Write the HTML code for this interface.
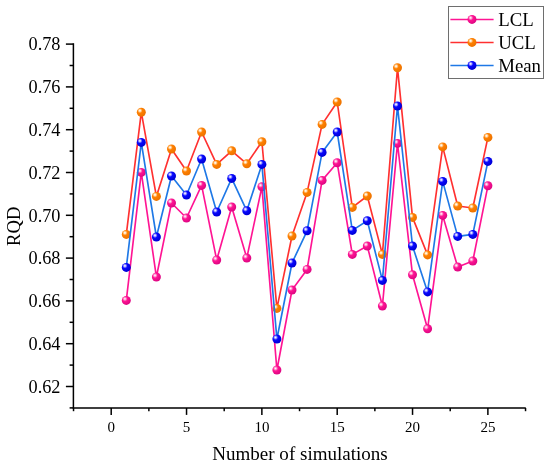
<!DOCTYPE html><html><head><meta charset="utf-8"><title>RQD</title>
<style>html,body{margin:0;padding:0;background:#fff}svg{display:block}text{font-family:"Liberation Serif","Times New Roman",serif;fill:#000}</style></head><body>
<svg width="550" height="469" viewBox="0 0 550 469">
<defs>
<radialGradient id="gp" cx="0.36" cy="0.34" r="0.62" fx="0.34" fy="0.32"><stop offset="0" stop-color="#fff"/><stop offset="0.12" stop-color="#ffd0e8"/><stop offset="0.45" stop-color="#ff1493"/><stop offset="1" stop-color="#e00884"/></radialGradient>
<radialGradient id="go" cx="0.36" cy="0.34" r="0.62" fx="0.34" fy="0.32"><stop offset="0" stop-color="#fff"/><stop offset="0.12" stop-color="#fff0d8"/><stop offset="0.45" stop-color="#ff8000"/><stop offset="1" stop-color="#ee7400"/></radialGradient>
<radialGradient id="gb" cx="0.36" cy="0.34" r="0.62" fx="0.34" fy="0.32"><stop offset="0" stop-color="#fff"/><stop offset="0.12" stop-color="#d8d8ff"/><stop offset="0.45" stop-color="#0808ff"/><stop offset="1" stop-color="#0000d8"/></radialGradient>
</defs>
<rect width="550" height="469" fill="#fff"/>
<g stroke="#000" stroke-width="1.5" fill="none">
<path d="M73.4 43.35V408.0H525.8"/>
<path d="M69.60000000000001 407.90H73.4"/>
<path d="M65.9 386.50H73.4"/>
<path d="M69.60000000000001 365.10H73.4"/>
<path d="M65.9 343.70H73.4"/>
<path d="M69.60000000000001 322.30H73.4"/>
<path d="M65.9 300.90H73.4"/>
<path d="M69.60000000000001 279.50H73.4"/>
<path d="M65.9 258.10H73.4"/>
<path d="M69.60000000000001 236.70H73.4"/>
<path d="M65.9 215.30H73.4"/>
<path d="M69.60000000000001 193.90H73.4"/>
<path d="M65.9 172.50H73.4"/>
<path d="M69.60000000000001 151.10H73.4"/>
<path d="M65.9 129.70H73.4"/>
<path d="M69.60000000000001 108.30H73.4"/>
<path d="M65.9 86.90H73.4"/>
<path d="M69.60000000000001 65.50H73.4"/>
<path d="M65.9 44.10H73.4"/>
<path d="M73.53 408.0V411.2"/>
<path d="M111.20 408.0V414.9"/>
<path d="M148.87 408.0V411.2"/>
<path d="M186.54 408.0V414.9"/>
<path d="M224.20 408.0V411.2"/>
<path d="M261.87 408.0V414.9"/>
<path d="M299.54 408.0V411.2"/>
<path d="M337.20 408.0V414.9"/>
<path d="M374.87 408.0V411.2"/>
<path d="M412.54 408.0V414.9"/>
<path d="M450.21 408.0V411.2"/>
<path d="M487.88 408.0V414.9"/>
<path d="M525.54 408.0V411.2"/>
</g>
<text x="60.5" y="392.7" font-size="18.3" text-anchor="end">0.62</text>
<text x="60.5" y="349.9" font-size="18.3" text-anchor="end">0.64</text>
<text x="60.5" y="307.1" font-size="18.3" text-anchor="end">0.66</text>
<text x="60.5" y="264.3" font-size="18.3" text-anchor="end">0.68</text>
<text x="60.5" y="221.5" font-size="18.3" text-anchor="end">0.70</text>
<text x="60.5" y="178.7" font-size="18.3" text-anchor="end">0.72</text>
<text x="60.5" y="135.9" font-size="18.3" text-anchor="end">0.74</text>
<text x="60.5" y="93.1" font-size="18.3" text-anchor="end">0.76</text>
<text x="60.5" y="50.3" font-size="18.3" text-anchor="end">0.78</text>
<text x="111.2" y="432.2" font-size="15" text-anchor="middle">0</text>
<text x="186.5" y="432.2" font-size="15" text-anchor="middle">5</text>
<text x="261.9" y="432.2" font-size="15" text-anchor="middle">10</text>
<text x="337.2" y="432.2" font-size="15" text-anchor="middle">15</text>
<text x="412.5" y="432.2" font-size="15" text-anchor="middle">20</text>
<text x="487.9" y="432.2" font-size="15" text-anchor="middle">25</text>
<text x="300" y="460" font-size="19.05" text-anchor="middle">Number of simulations</text>
<text transform="translate(20.4 226.3) rotate(-90)" font-size="18.6" text-anchor="middle">RQD</text>
<polyline points="126.3,300.4 141.3,172.4 156.4,277.0 171.5,203.0 186.5,218.0 201.6,185.4 216.7,260.0 231.7,207.0 246.8,258.0 261.9,186.8 276.9,370.0 292.0,290.0 307.1,269.4 322.1,180.4 337.2,162.8 352.3,254.4 367.3,246.0 382.4,306.0 397.5,143.4 412.5,274.8 427.6,328.8 442.7,215.4 457.7,267.0 472.8,261.0 487.9,185.8" fill="none" stroke="#ff1493" stroke-width="1.65" stroke-linejoin="round"/>
<circle cx="126.3" cy="300.4" r="4.5" fill="url(#gp)"/>
<circle cx="141.3" cy="172.4" r="4.5" fill="url(#gp)"/>
<circle cx="156.4" cy="277.0" r="4.5" fill="url(#gp)"/>
<circle cx="171.5" cy="203.0" r="4.5" fill="url(#gp)"/>
<circle cx="186.5" cy="218.0" r="4.5" fill="url(#gp)"/>
<circle cx="201.6" cy="185.4" r="4.5" fill="url(#gp)"/>
<circle cx="216.7" cy="260.0" r="4.5" fill="url(#gp)"/>
<circle cx="231.7" cy="207.0" r="4.5" fill="url(#gp)"/>
<circle cx="246.8" cy="258.0" r="4.5" fill="url(#gp)"/>
<circle cx="261.9" cy="186.8" r="4.5" fill="url(#gp)"/>
<circle cx="276.9" cy="370.0" r="4.5" fill="url(#gp)"/>
<circle cx="292.0" cy="290.0" r="4.5" fill="url(#gp)"/>
<circle cx="307.1" cy="269.4" r="4.5" fill="url(#gp)"/>
<circle cx="322.1" cy="180.4" r="4.5" fill="url(#gp)"/>
<circle cx="337.2" cy="162.8" r="4.5" fill="url(#gp)"/>
<circle cx="352.3" cy="254.4" r="4.5" fill="url(#gp)"/>
<circle cx="367.3" cy="246.0" r="4.5" fill="url(#gp)"/>
<circle cx="382.4" cy="306.0" r="4.5" fill="url(#gp)"/>
<circle cx="397.5" cy="143.4" r="4.5" fill="url(#gp)"/>
<circle cx="412.5" cy="274.8" r="4.5" fill="url(#gp)"/>
<circle cx="427.6" cy="328.8" r="4.5" fill="url(#gp)"/>
<circle cx="442.7" cy="215.4" r="4.5" fill="url(#gp)"/>
<circle cx="457.7" cy="267.0" r="4.5" fill="url(#gp)"/>
<circle cx="472.8" cy="261.0" r="4.5" fill="url(#gp)"/>
<circle cx="487.9" cy="185.8" r="4.5" fill="url(#gp)"/>
<polyline points="126.3,234.4 141.3,112.2 156.4,196.4 171.5,149.0 186.5,171.0 201.6,132.0 216.7,164.4 231.7,150.8 246.8,163.8 261.9,141.8 276.9,308.4 292.0,236.0 307.1,192.4 322.1,124.4 337.2,102.0 352.3,207.4 367.3,196.0 382.4,254.4 397.5,67.8 412.5,217.4 427.6,254.9 442.7,146.9 457.7,206.0 472.8,208.0 487.9,137.4" fill="none" stroke="#ff3030" stroke-width="1.65" stroke-linejoin="round"/>
<circle cx="126.3" cy="234.4" r="4.5" fill="url(#go)"/>
<circle cx="141.3" cy="112.2" r="4.5" fill="url(#go)"/>
<circle cx="156.4" cy="196.4" r="4.5" fill="url(#go)"/>
<circle cx="171.5" cy="149.0" r="4.5" fill="url(#go)"/>
<circle cx="186.5" cy="171.0" r="4.5" fill="url(#go)"/>
<circle cx="201.6" cy="132.0" r="4.5" fill="url(#go)"/>
<circle cx="216.7" cy="164.4" r="4.5" fill="url(#go)"/>
<circle cx="231.7" cy="150.8" r="4.5" fill="url(#go)"/>
<circle cx="246.8" cy="163.8" r="4.5" fill="url(#go)"/>
<circle cx="261.9" cy="141.8" r="4.5" fill="url(#go)"/>
<circle cx="276.9" cy="308.4" r="4.5" fill="url(#go)"/>
<circle cx="292.0" cy="236.0" r="4.5" fill="url(#go)"/>
<circle cx="307.1" cy="192.4" r="4.5" fill="url(#go)"/>
<circle cx="322.1" cy="124.4" r="4.5" fill="url(#go)"/>
<circle cx="337.2" cy="102.0" r="4.5" fill="url(#go)"/>
<circle cx="352.3" cy="207.4" r="4.5" fill="url(#go)"/>
<circle cx="367.3" cy="196.0" r="4.5" fill="url(#go)"/>
<circle cx="382.4" cy="254.4" r="4.5" fill="url(#go)"/>
<circle cx="397.5" cy="67.8" r="4.5" fill="url(#go)"/>
<circle cx="412.5" cy="217.4" r="4.5" fill="url(#go)"/>
<circle cx="427.6" cy="254.9" r="4.5" fill="url(#go)"/>
<circle cx="442.7" cy="146.9" r="4.5" fill="url(#go)"/>
<circle cx="457.7" cy="206.0" r="4.5" fill="url(#go)"/>
<circle cx="472.8" cy="208.0" r="4.5" fill="url(#go)"/>
<circle cx="487.9" cy="137.4" r="4.5" fill="url(#go)"/>
<polyline points="126.3,267.4 141.3,142.4 156.4,237.0 171.5,176.0 186.5,195.0 201.6,159.0 216.7,212.0 231.7,178.4 246.8,210.8 261.9,164.4 276.9,339.0 292.0,263.0 307.1,230.8 322.1,152.4 337.2,132.0 352.3,230.4 367.3,220.8 382.4,280.4 397.5,106.0 412.5,246.0 427.6,291.9 442.7,181.4 457.7,236.4 472.8,234.4 487.9,161.4" fill="none" stroke="#1e78e6" stroke-width="1.65" stroke-linejoin="round"/>
<circle cx="126.3" cy="267.4" r="4.5" fill="url(#gb)"/>
<circle cx="141.3" cy="142.4" r="4.5" fill="url(#gb)"/>
<circle cx="156.4" cy="237.0" r="4.5" fill="url(#gb)"/>
<circle cx="171.5" cy="176.0" r="4.5" fill="url(#gb)"/>
<circle cx="186.5" cy="195.0" r="4.5" fill="url(#gb)"/>
<circle cx="201.6" cy="159.0" r="4.5" fill="url(#gb)"/>
<circle cx="216.7" cy="212.0" r="4.5" fill="url(#gb)"/>
<circle cx="231.7" cy="178.4" r="4.5" fill="url(#gb)"/>
<circle cx="246.8" cy="210.8" r="4.5" fill="url(#gb)"/>
<circle cx="261.9" cy="164.4" r="4.5" fill="url(#gb)"/>
<circle cx="276.9" cy="339.0" r="4.5" fill="url(#gb)"/>
<circle cx="292.0" cy="263.0" r="4.5" fill="url(#gb)"/>
<circle cx="307.1" cy="230.8" r="4.5" fill="url(#gb)"/>
<circle cx="322.1" cy="152.4" r="4.5" fill="url(#gb)"/>
<circle cx="337.2" cy="132.0" r="4.5" fill="url(#gb)"/>
<circle cx="352.3" cy="230.4" r="4.5" fill="url(#gb)"/>
<circle cx="367.3" cy="220.8" r="4.5" fill="url(#gb)"/>
<circle cx="382.4" cy="280.4" r="4.5" fill="url(#gb)"/>
<circle cx="397.5" cy="106.0" r="4.5" fill="url(#gb)"/>
<circle cx="412.5" cy="246.0" r="4.5" fill="url(#gb)"/>
<circle cx="427.6" cy="291.9" r="4.5" fill="url(#gb)"/>
<circle cx="442.7" cy="181.4" r="4.5" fill="url(#gb)"/>
<circle cx="457.7" cy="236.4" r="4.5" fill="url(#gb)"/>
<circle cx="472.8" cy="234.4" r="4.5" fill="url(#gb)"/>
<circle cx="487.9" cy="161.4" r="4.5" fill="url(#gb)"/>
<rect x="448.5" y="6.5" width="95" height="72" fill="#fff" stroke="#6e6e6e" stroke-width="1"/>
<path d="M450.4 19.4H493.6" stroke="#ff1493" stroke-width="1.5"/>
<circle cx="472" cy="19.4" r="4.5" fill="url(#gp)"/>
<text x="498.2" y="26.0" font-size="18.8">LCL</text>
<path d="M450.4 42.4H493.6" stroke="#ff3030" stroke-width="1.5"/>
<circle cx="472" cy="42.4" r="4.5" fill="url(#go)"/>
<text x="498.2" y="49.0" font-size="18.8">UCL</text>
<path d="M450.4 65.4H493.6" stroke="#1e78e6" stroke-width="1.5"/>
<circle cx="472" cy="65.4" r="4.5" fill="url(#gb)"/>
<text x="498.2" y="72.0" font-size="18.8">Mean</text>
</svg></body></html>
